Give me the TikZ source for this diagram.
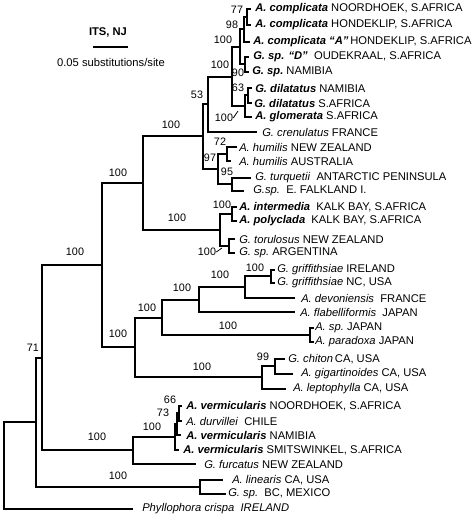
\documentclass[tikz,border=0pt]{standalone}
\usepackage{fontspec}
\setmainfont{Liberation Sans}
\newcommand\spbf[1]{\textbf{\textit{#1}}}
\begin{document}
\begin{tikzpicture}[x=0.75pt,y=-0.75pt,
  br/.style={line width=1.5pt,line cap=rect},
  lf/.style={anchor=west,inner sep=0pt,font=\fontsize{8.4}{9}\selectfont},
  bs/.style={inner sep=0pt,font=\fontsize{8.1}{9}\selectfont},
  ld/.style={line width=0.6pt}]
\useasboundingbox (0,0) rectangle (474,521);
% scale bar
\node[lf,anchor=center] (title) at (108,32) {\textbf{ITS, NJ}};
\coordinate (sb1) at (93,47); \coordinate (sb2) at (128,47);
\draw[line width=1.5pt] (sb1) -- (sb2);
\node[lf,anchor=center] (sbt) at (111,62) {0.05 substitutions/site};
% leaves: label nodes and tip coordinates
\node[lf] (n1) at (255,9) {\spbf{A. complicata}\ NOORDHOEK, S.AFRICA}; \coordinate (t1) at (250,9);
\node[lf] (n2) at (255,25) {\spbf{A. complicata}\ HONDEKLIP, S.AFRICA}; \coordinate (t2) at (250,25);
\node[lf] (n3) at (253,42) {\spbf{A. complicata}\ \spbf{``A''}\,HONDEKLIP, S.AFRICA}; \coordinate (t3) at (249,42);
\node[lf] (n4) at (253,57) {\spbf{G. sp. ``D''}\ \ OUDEKRAAL, S.AFRICA}; \coordinate (t4) at (248,57);
\node[lf] (n5) at (252,72) {\spbf{G. sp.}\ NAMIBIA}; \coordinate (t5) at (248,72);
\node[lf] (n6) at (255,88) {\spbf{G. dilatatus}\ NAMIBIA}; \coordinate (t6) at (251,88);
\node[lf] (n7) at (254,103) {\spbf{G. dilatatus}\ S.AFRICA}; \coordinate (t7) at (251,103);
\node[lf] (n8) at (255,117) {\spbf{A. glomerata}\ S.AFRICA}; \coordinate (t8) at (251,117);
\node[lf] (n9) at (262,132) {\textit{G. crenulatus}\ FRANCE}; \coordinate (t9) at (256,132);
\node[lf] (n10) at (239,147) {\textit{A. humilis}\ NEW ZEALAND}; \coordinate (t10) at (236,147);
\node[lf] (n11) at (239,161) {\textit{A. humilis}\ AUSTRALIA}; \coordinate (t11) at (230,161);
\node[lf] (n12) at (255,178) {\textit{G. turquetii}\ \ ANTARCTIC PENINSULA}; \coordinate (t12) at (250,178);
\node[lf] (n13) at (253,191) {\textit{G.sp.}\ \ E. FALKLAND I.}; \coordinate (t13) at (243,191);
\node[lf] (n14) at (239,207) {\spbf{A. intermedia}\ \ KALK BAY, S.AFRICA}; \coordinate (t14) at (236,207);
\node[lf] (n15) at (239,221) {\spbf{A. polyclada}\ \ KALK BAY, S.AFRICA}; \coordinate (t15) at (236,221);
\node[lf] (n16) at (239,239) {\textit{G. torulosus}\ NEW ZEALAND}; \coordinate (t16) at (234,239);
\node[lf] (n17) at (239,253) {\textit{G. sp.}\ ARGENTINA}; \coordinate (t17) at (234,253);
\node[lf] (n18) at (277,270) {\textit{G. griffithsiae}\ IRELAND}; \coordinate (t18) at (274,270);
\node[lf] (n19) at (277,283) {\textit{G. griffithsiae}\ NC, USA}; \coordinate (t19) at (274,283);
\node[lf] (n20) at (301,298) {\textit{A. devoniensis}\ \ FRANCE}; \coordinate (t20) at (294,298);
\node[lf] (n21) at (300,312) {\textit{A. flabelliformis}\ \ JAPAN}; \coordinate (t21) at (294,312);
\node[lf] (n22) at (315,328) {\textit{A. sp.}\ JAPAN}; \coordinate (t22) at (313,328);
\node[lf] (n23) at (315,342) {\textit{A. paradoxa}\ JAPAN}; \coordinate (t23) at (313,342);
\node[lf] (n24) at (288,359) {\textit{G. chiton}\,CA, USA}; \coordinate (t24) at (284,359);
\node[lf] (n25) at (301,374) {\textit{A. gigartinoides}\ CA, USA}; \coordinate (t25) at (292,374);
\node[lf] (n26) at (293,389) {\textit{A. leptophylla}\ CA, USA}; \coordinate (t26) at (285,389);
\node[lf] (n27) at (186,406) {\spbf{A. vermicularis}\ NOORDHOEK, S.AFRICA}; \coordinate (t27) at (181,406);
\node[lf] (n28) at (186,421) {\textit{A. durvillei}\ \ CHILE}; \coordinate (t28) at (181,421);
\node[lf] (n29) at (186,435) {\spbf{A. vermicularis}\ NAMIBIA}; \coordinate (t29) at (180,435);
\node[lf] (n30) at (183,450) {\spbf{A. vermicularis}\ SMITSWINKEL, S.AFRICA}; \coordinate (t30) at (178,450);
\node[lf] (n31) at (204,464) {\textit{G. furcatus}\ NEW ZEALAND}; \coordinate (t31) at (195,464);
\node[lf] (n32) at (232,480) {\textit{A. linearis}\ CA, USA}; \coordinate (t32) at (222,480);
\node[lf] (n33) at (228,494) {\textit{G. sp.}\ \ BC, MEXICO}; \coordinate (t33) at (225,494);
\node[lf] (n34) at (142,509) {\textit{Phyllophora crispa\ \ IRELAND}}; \coordinate (t34) at (132,509);
% internal nodes
\coordinate (K) at (247,17);
\coordinate (I) at (244,29);
\coordinate (J) at (245,64);
\coordinate (H) at (240,47);
\coordinate (M) at (248,95);
\coordinate (Ln) at (245,106);
\coordinate (G) at (232,77);
\coordinate (F) at (208,104);
\coordinate (O) at (227,154);
\coordinate (P) at (232,184);
\coordinate (N) at (218,169);
\coordinate (E) at (203,136);
\coordinate (R) at (232,214);
\coordinate (S) at (229,246);
\coordinate (Q) at (220,230);
\coordinate (D) at (143,183);
\coordinate (Y) at (271,276);
\coordinate (Z) at (245,287);
\coordinate (W) at (199,300);
\coordinate (X) at (310,335);
\coordinate (U) at (162,318);
\coordinate (CH) at (275,366);
\coordinate (V) at (262,377);
\coordinate (T) at (135,347);
\coordinate (C) at (102,265);
\coordinate (vc) at (179,413);
\coordinate (vb) at (177,424);
\coordinate (va) at (175,437);
\coordinate (VG) at (133,450);
\coordinate (B) at (42,358);
\coordinate (LG) at (200,487);
\coordinate (A) at (36,422);
\coordinate (Rt) at (4,466);
% branches
\draw[br] (t1) -| (K) |- (t2);
\draw[br] (K) -| (I) |- (t3);
\draw[br] (t4) -| (J) |- (t5);
\draw[br] (I) -| (H) |- (J);
\draw[br] (t6) -| (M) |- (t7);
\draw[br] (M) -| (Ln) |- (t8);
\draw[br] (H) -| (G) |- (Ln);
\draw[br] (G) -| (F) |- (t9);
\draw[br] (t10) -| (O) |- (t11);
\draw[br] (t12) -| (P) |- (t13);
\draw[br] (O) -| (N) |- (P);
\draw[br] (F) -| (E) |- (N);
\draw[br] (t14) -| (R) |- (t15);
\draw[br] (t16) -| (S) |- (t17);
\draw[br] (R) -| (Q) |- (S);
\draw[br] (E) -| (D) |- (Q);
\draw[br] (t18) -| (Y) |- (t19);
\draw[br] (Y) -| (Z) |- (t20);
\draw[br] (Z) -| (W) |- (t21);
\draw[br] (t22) -| (X) |- (t23);
\draw[br] (W) -| (U) |- (X);
\draw[br] (t24) -| (CH) |- (t25);
\draw[br] (CH) -| (V) |- (t26);
\draw[br] (U) -| (T) |- (V);
\draw[br] (D) -| (C) |- (T);
\draw[br] (t27) -| (vc) |- (t28);
\draw[br] (vc) -| (vb) |- (t29);
\draw[br] (vb) -| (va) |- (t30);
\draw[br] (va) -| (VG) |- (t31);
\draw[br] (C) -| (B) |- (VG);
\draw[br] (t32) -| (LG) |- (t33);
\draw[br] (B) -| (A) |- (LG);
\draw[br] (A) -| (Rt) |- (t34);
% bootstrap values
\node[bs] (b77) at (237,10) {77};
\node[bs] (b98) at (232,25) {98};
\node[bs] (b100h) at (223,40) {100};
\node[bs] (b90) at (238,73) {90};
\node[bs] (b63) at (238,88) {63};
\node[bs] (b100l) at (224,118) {100};
\coordinate (lk1) at (238,111);
\draw[ld] (b100l.east) -- (lk1);
\node[bs] (b100f) at (220,65) {100};
\node[bs] (b53) at (197,95) {53};
\node[bs] (b72) at (220,142) {72};
\node[bs] (b97) at (210,158) {97};
\node[bs] (b95) at (227,172) {95};
\node[bs] (b100r) at (222,205) {100};
\node[bs] (b100s) at (207,252) {100};
\coordinate (lk2) at (222,248);
\draw[ld] (b100s.east) -- (lk2);
\node[bs] (b100d1) at (171,125) {100};
\node[bs] (b100d2) at (177,218) {100};
\node[bs] (b100c1) at (118,173) {100};
\node[bs] (b100c2) at (118,334) {100};
\node[bs] (b100b1) at (75,252) {100};
\node[bs] (b100b2) at (97,437) {100};
\node[bs] (b71) at (33,348) {71};
\node[bs] (b100a) at (118,476) {100};
\node[bs] (b100y) at (255,268) {100};
\node[bs] (b100w) at (220,275) {100};
\node[bs] (b100u) at (182,288) {100};
\node[bs] (b100t) at (147,308) {100};
\node[bs] (b100x) at (228,326) {100};
\node[bs] (b99) at (263,357) {99};
\node[bs] (b100v) at (202,367) {100};
\node[bs] (b100vg) at (152,427) {100};
\node[bs] (b66) at (170,400) {66};
\node[bs] (b73) at (163,413) {73};
\end{tikzpicture}
\end{document}
